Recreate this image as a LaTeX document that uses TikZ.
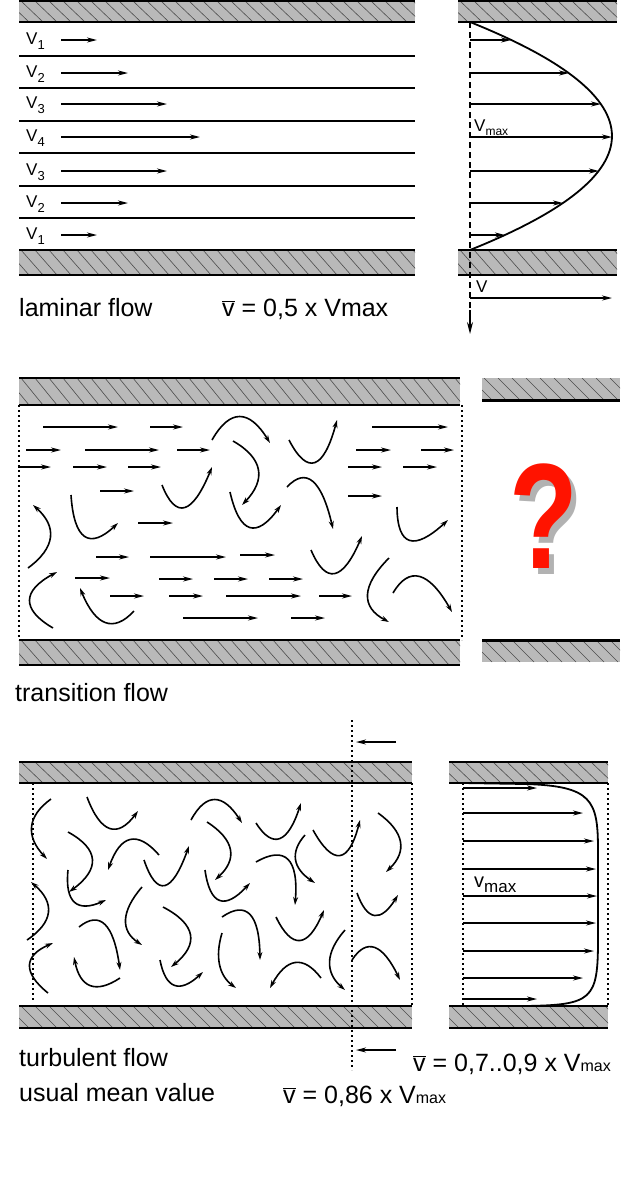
\documentclass[tikz,border=0pt]{standalone}
\usepackage{fontspec}
\setmainfont{Liberation Sans}
\usetikzlibrary{arrows.meta,calc}
\tikzset{
  ar/.style={line width=1.5pt,-{Stealth[length=10pt,width=5pt]}},
  ca/.style={line width=1.6pt,-{Stealth[length=8pt,width=5pt]}},
  dl/.style={line width=1.3pt,dash pattern=on 2pt off 3pt},
  lbl/.style={inner sep=0pt,anchor=base west,font=\fontsize{25}{27}\selectfont},
  sl/.style={inner sep=0pt,anchor=base west,font=\fontsize{17}{19}\selectfont},
}
\newcommand\hwall[5]{% x1 y1 x2 y2 lines
  \fill[gray!55] (#1,#2) rectangle (#3,#4);
  \begin{scope}\clip (#1,#2) rectangle (#3,#4);
  \foreach \k in {-40,-26,...,700}{\draw[line width=0.6pt,black!70] ($(#1,#2)+(\k,0)$) -- ++(22,#4-#2);}
  \end{scope}
  \ifnum#5=1 \draw[line width=2.5pt] (#1,#2)--(#3,#2); \draw[line width=2.5pt] (#1,#4)--(#3,#4);\fi
  \ifnum#5=2 \draw[line width=3pt] (#1,#4)--(#3,#4);\fi
  \ifnum#5=3 \draw[line width=3pt] (#1,#2)--(#3,#2);\fi
}
% curve from #1 through #2 (midpoint) to #3, as a parabola
\newcommand\carr[3]{\draw[ca] (#1) .. controls ($1.3333*(#2)-0.3333*(#3)$) and ($1.3333*(#2)-0.3333*(#1)$) .. (#3);}
\begin{document}
\begin{tikzpicture}[x=1pt,y=-1pt]
\useasboundingbox[fill=white] (0,0) rectangle (631,1184);
% ===== laminar =====
\hwall{19}{1}{415}{22}{1}
\hwall{19}{250}{415}{275}{1}
\hwall{458}{1}{617}{22}{1}
\hwall{458}{250}{617}{275}{1}
\foreach \y in {56,88,121,153,186,218}{\draw[line width=1.6pt] (19,\y)--(415,\y);}
\foreach \y/\e/\i in {40/97/1,73/128/2,104/167/3,137/200/4,171/167/3,203/128/2,235/97/1}{
  \node[sl] (lv\y) at (26,\y+4) {V\raisebox{-5pt}{\fontsize{13}{13}\selectfont\i}};
  \draw[ar] (61,\y)--(\e,\y);}
\draw[line width=1.3pt,dash pattern=on 6pt off 4pt] (470,22)--(470,310);
\draw[line width=1.3pt,-{Stealth[length=12pt,width=6pt]}] (470,310)--(470,334);
\draw[line width=1.8pt] (470,22) .. controls (659.3,98) and (659.3,174) .. (470,250);
\foreach \y/\e in {40/511,73/569,104/601,137/612,171/599,203/563,235/505}{\draw[ar] (470,\y)--(\e,\y);}
\node[sl] (vmx) at (474,131) {V\raisebox{-4pt}{\fontsize{12}{12}\selectfont max}};
\node[sl] (vv) at (476,292) {V};
\draw[ar] (470,298)--(612,298);
\node[lbl] (lam) at (19,316) {laminar flow};
\node[lbl] (lamv) at (222,316) {$\overline{\mbox{v}}$ = 0,5 x Vmax};
% ===== transition =====
\hwall{19}{378}{460}{405}{1}
\hwall{19}{640}{460}{665}{1}
\hwall{482}{378}{620}{400}{2}
\hwall{482}{640}{620}{662}{3}
\draw[dl] (19,405)--(19,640); \draw[dl] (462,405)--(462,640);
\node[inner sep=0pt,text=gray!60,font=\fontsize{150}{150}\selectfont\bfseries,xscale=0.75] (qs) at (549,522) {?};
\node[inner sep=0pt,text=red!85!orange,font=\fontsize{150}{150}\selectfont\bfseries,xscale=0.75] (q) at (544,516) {?};
\node[lbl] (tr) at (15,701) {transition flow};
\foreach \a/\b/\y in {43/118/427,150/183/427,372/448/427,26/61/450,85/159/450,177/210/450,356/391/450,421/454/450,
 18/51/467,73/107/467,128/161/467,348/382/467,403/437/467,100/134/491,348/382/496,138/173/523,
 96/129/557,150/226/557,240/275/555,75/110/578,159/193/579,214/248/579,269/303/579,
 110/144/596,169/203/596,226/301/596,319/352/596,183/258/618,291/325/618}{\draw[ar] (\a,\y)--(\b,\y);}
\carr{212,440}{240,417}{270,443}
\carr{289,440}{315,462}{337,420}
\carr{233,441}{258,470}{242,505}
\carr{162,485}{185,507}{212,467}
\carr{230,492}{250,527}{281,505}
\carr{287,487}{313,482}{333,529}
\carr{28,568}{50,537}{33,505}
\carr{71,495}{85,536}{118,523}
\carr{397,507}{410,540}{448,520}
\carr{311,550}{335,573}{362,536}
\carr{53,628}{30,600}{57,572}
\carr{134,611}{105,622}{80,588}
\carr{389,558}{368,595}{389,622}
\carr{393,593}{420,577}{452,612}
% ===== turbulent =====
\hwall{19}{762}{412}{783}{1}
\hwall{19}{1006}{412}{1028}{1}
\hwall{449}{762}{608}{783}{1}
\hwall{449}{1006}{608}{1028}{1}
\draw[dl] (33,783)--(33,1002); \draw[dl] (412,783)--(412,1006);
\draw[dl] (463,783)--(463,1006); \draw[dl] (608,783)--(608,1006);
\draw[dl] (352,720)--(352,1070);
\draw[ar] (396,742)--(356,742);
\draw[ar] (396,1050)--(356,1050);
\draw[line width=1.8pt] (463,783) -- (525,784) .. controls (592,786) and (598,800) .. (598,850) -- (598,940) .. controls (598,1000) and (592,1005) .. (525,1006) -- (463,1006);
\foreach \y/\e in {788/537,813/583,841/594,869/596,896/597,923/596,951/594,978/583,999/537}{\draw[ar] (463,\y)--(\e,\y);}
\node[inner sep=0pt,anchor=base west,font=\fontsize{20}{22}\selectfont] (vm2) at (474,887) {v\raisebox{-5pt}{\fontsize{17}{17}\selectfont max}};
\carr{51,799}{32,827}{47,859}
\carr{87,797}{110,828}{138,811}
\carr{68,832}{92,860}{69,892}
\carr{159,855}{130,840}{108,870}
\carr{144,860}{165,885}{189,846}
\carr{191,820}{215,800}{242,823}
\carr{207,822}{230,850}{215,880}
\carr{256,823}{280,838}{301,803}
\carr{313,830}{340,855}{360,820}
\carr{378,813}{400,842}{386,872}
\carr{305,835}{296,860}{315,883}
\carr{256,862}{288,860}{295,905}
\carr{205,870}{220,900}{250,883}
\carr{27,940}{48,912}{31,882}
\carr{68,870}{75,902}{106,900}
\carr{142,887}{126,920}{142,945}
\carr{79,927}{105,925}{120,970}
\carr{163,907}{190,935}{171,967}
\carr{222,917}{250,915}{260,960}
\carr{276,917}{300,940}{324,910}
\carr{357,893}{375,915}{398,895}
\carr{48,993}{30,965}{53,943}
\carr{120,978}{90,985}{74,957}
\carr{160,960}{175,985}{203,972}
\carr{222,933}{220,965}{236,988}
\carr{321,978}{295,963}{270,988}
\carr{345,930}{330,962}{345,990}
\carr{352,960}{375,948}{400,980}
\node[lbl] (tb) at (19,1066) {turbulent flow};
\node[lbl] (um) at (19,1101) {usual mean value};
\node[lbl] (t1) at (413,1071) {$\overline{\mbox{v}}$ = 0,7..0,9 x V{\fontsize{16}{16}\selectfont max}};
\node[lbl] (t2) at (283,1103) {$\overline{\mbox{v}}$ = 0,86 x V{\fontsize{16}{16}\selectfont max}};
\end{tikzpicture}
\end{document}
